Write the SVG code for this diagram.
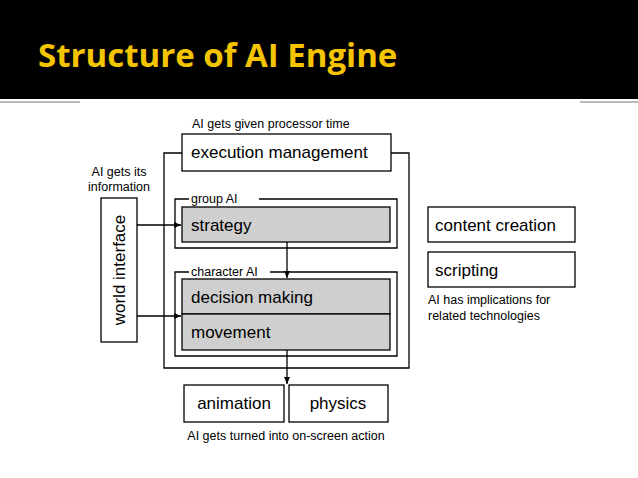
<svg xmlns="http://www.w3.org/2000/svg" width="638" height="478" viewBox="0 0 638 478">
<style>
.b{fill:#fff;stroke:#000;stroke-width:1.3}
.g{fill:#cfcfcf;stroke:#000;stroke-width:1.3}
.f{fill:none;stroke:#000;stroke-width:1.3}
.t{font-family:"Liberation Sans",Arial,sans-serif;font-size:17px;fill:#000}
.s{font-family:"Liberation Sans",Arial,sans-serif;font-size:12.5px;fill:#000}
</style>
<defs><marker id="a" markerWidth="8" markerHeight="8" refX="7" refY="4" orient="auto" markerUnits="userSpaceOnUse"><path d="M0,1 L7,4 L0,7z" fill="#000"/></marker></defs>
<rect width="638" height="478" fill="#fff"/>
<rect width="638" height="99" fill="#000"/>
<text x="38" y="67" font-family="'Open Sans','Noto Sans',sans-serif" font-size="33" font-weight="bold" fill="#f5c400">Structure of AI Engine</text>
<line x1="0" y1="102" x2="80" y2="102" stroke="#bbb" stroke-width="2"/>
<line x1="580" y1="102" x2="638" y2="102" stroke="#bbb" stroke-width="2"/>
<g id="frame"><path class="f" d="M182,153 H164 V368 H409 V153 H391"/></g>
<g id="exec"><text class="s" x="192" y="128">AI gets given processor time</text><rect class="b" x="182" y="134" width="209" height="37"/><text class="t" x="191" y="158">execution management</text></g>
<g id="groupAI"><path class="f" d="M189,199 H175 V248 H397 V199 H259"/><text class="s" x="191" y="203">group AI</text><rect class="g" x="182" y="207" width="208" height="35"/><text class="t" x="191" y="231">strategy</text></g>
<g id="charAI"><path class="f" d="M189,272 H175 V356 H397 V272 H270"/><text class="s" x="191" y="276">character AI</text><rect class="g" x="182" y="279" width="208" height="35"/><text class="t" x="191" y="303">decision making</text><rect class="g" x="182" y="314" width="208" height="36"/><text class="t" x="191" y="338">movement</text></g>
<g id="world"><text class="s" x="119" y="176" text-anchor="middle">AI gets its</text><text class="s" x="119" y="191" text-anchor="middle">information</text><rect class="b" x="101" y="198" width="36" height="144"/><text class="t" transform="translate(125,270) rotate(-90)" text-anchor="middle">world interface</text></g>
<g id="anim"><rect class="b" x="184" y="385" width="100" height="37"/><text class="t" x="234" y="409" text-anchor="middle">animation</text></g>
<g id="phys"><rect class="b" x="289" y="385" width="99" height="37"/><text class="t" x="338" y="409" text-anchor="middle">physics</text><text class="s" x="286" y="440" text-anchor="middle">AI gets turned into on-screen action</text></g>
<g id="content"><rect class="b" x="428" y="207" width="147" height="35"/><text class="t" x="435" y="231">content creation</text></g>
<g id="scripting"><rect class="b" x="428" y="252" width="147" height="35"/><text class="t" x="435" y="276">scripting</text><text class="s" x="428" y="304">AI has implications for</text><text class="s" x="428" y="320">related technologies</text></g>
<g id="connectors" stroke="#000" stroke-width="1.3" fill="none">
<line x1="137" y1="225" x2="181" y2="225" marker-end="url(#a)"/>
<line x1="137" y1="316" x2="181" y2="316" marker-end="url(#a)"/>
<line x1="287" y1="242" x2="287" y2="278" marker-end="url(#a)"/>
<line x1="287" y1="350" x2="287" y2="384" marker-end="url(#a)"/>
</g>
</svg>
